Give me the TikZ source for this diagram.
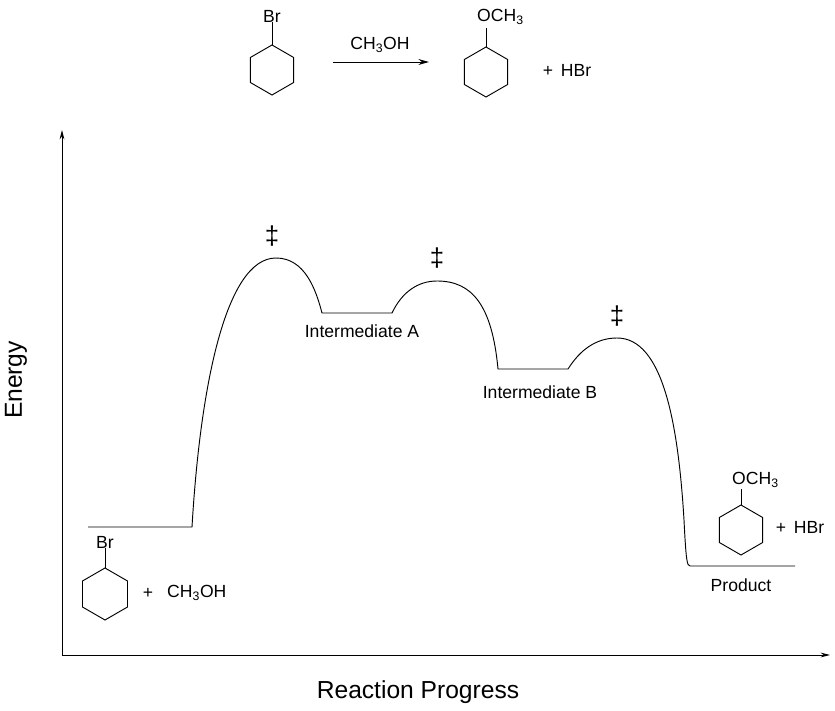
\documentclass[tikz,border=0pt]{standalone}
\usepackage{fontspec}
\setmainfont{Liberation Sans}
\usetikzlibrary{arrows.meta}
\begin{document}
\begin{tikzpicture}[x=0.03cm,y=-0.03cm,
  lbl/.style={inner sep=0pt,font=\fontsize{15}{17}\selectfont},
  dag/.style={inner sep=0pt,font=\fontsize{22}{24}\selectfont},
  big/.style={inner sep=0pt,font=\fontsize{21}{24}\selectfont},
  ln/.style={line width=0.8pt},
  hex/.style={ln}]
\useasboundingbox (0,0) rectangle (835,711);
% top reaction
\draw[hex] (272,70) +(90:-25) -- +(30:-25) -- +(-30:-25) -- +(-90:-25) -- +(-150:-25) -- +(150:-25) -- cycle;
\coordinate (t1) at (272,45);
\node[lbl] (br1) at (272,16) {Br};
\draw[ln] (t1) -- (br1.south);
\coordinate (a1) at (333,62); \coordinate (a2) at (429,62);
\draw[ln,-{Stealth[length=9pt,width=5pt]}] (a1) -- (a2);
\node[lbl] (r1) at (380,45) {CH\textsubscript{3}OH};
\draw[hex] (486,72) +(90:-25) -- +(30:-25) -- +(-30:-25) -- +(-90:-25) -- +(-150:-25) -- +(150:-25) -- cycle;
\coordinate (t2) at (486,47);
\node[lbl,anchor=west] (o1) at (477,17) {OCH\textsubscript{3}};
\draw[ln] (t2) -- (486,28);
\node[lbl] (hbr1) at (567,70) {+\, HBr};
% axes
\coordinate (o) at (62,655);
\coordinate (yt) at (62,130);
\coordinate (xt) at (830,655);
\draw[ln,-{Stealth[length=8pt,width=4pt]}] (o) -- (yt);
\draw[ln,-{Stealth[length=8pt,width=4pt]}] (o) -- (xt);
\node[big,rotate=90] (en) at (16,380) {Energy};
\node[big] (rp) at (418,692) {Reaction Progress};
% curve
\draw[ln] (88,527) -- (192,527) .. controls (200,390) and (225,258) .. (276,258)
  .. controls (305,258) and (316,290) .. (322,313) -- (392,313)
  .. controls (402,292) and (418,281) .. (437,281)
  .. controls (472,281) and (492,305) .. (498,369) -- (568,369)
  .. controls (580,350) and (596,338) .. (617,338)
  .. controls (662,338) and (678,420) .. (684,520)
  .. controls (686,560) and (687,566) .. (690,566) -- (795,566);
\node[dag] (dg1) at (272,236) {‡};
\node[dag] (dg2) at (437,258) {‡};
\node[dag] (dg3) at (617,316) {‡};
\node[lbl] (ia) at (362,331) {Intermediate A};
\node[lbl] (ib) at (540,392) {Intermediate B};
\node[lbl] (pr) at (741,585) {Product};
% reactant
\draw[hex] (105,594) +(90:-26) -- +(30:-26) -- +(-30:-26) -- +(-90:-26) -- +(-150:-26) -- +(150:-26) -- cycle;
\coordinate (t3) at (105,568);
\node[lbl] (br2) at (105,542) {Br};
\draw[ln] (t3) -- (br2.south);
\node[lbl] (pl2) at (148,593) {+};
\node[lbl,anchor=west] (me2) at (167,593) {CH\textsubscript{3}OH};
% product
\draw[hex] (741,530) +(90:-25) -- +(30:-25) -- +(-30:-25) -- +(-90:-25) -- +(-150:-25) -- +(150:-25) -- cycle;
\coordinate (t4) at (741,505);
\node[lbl,anchor=west] (o2) at (732,480) {OCH\textsubscript{3}};
\draw[ln] (t4) -- (741,489);
\node[lbl] (hbr2) at (800,527) {+\, HBr};
\end{tikzpicture}
\end{document}
